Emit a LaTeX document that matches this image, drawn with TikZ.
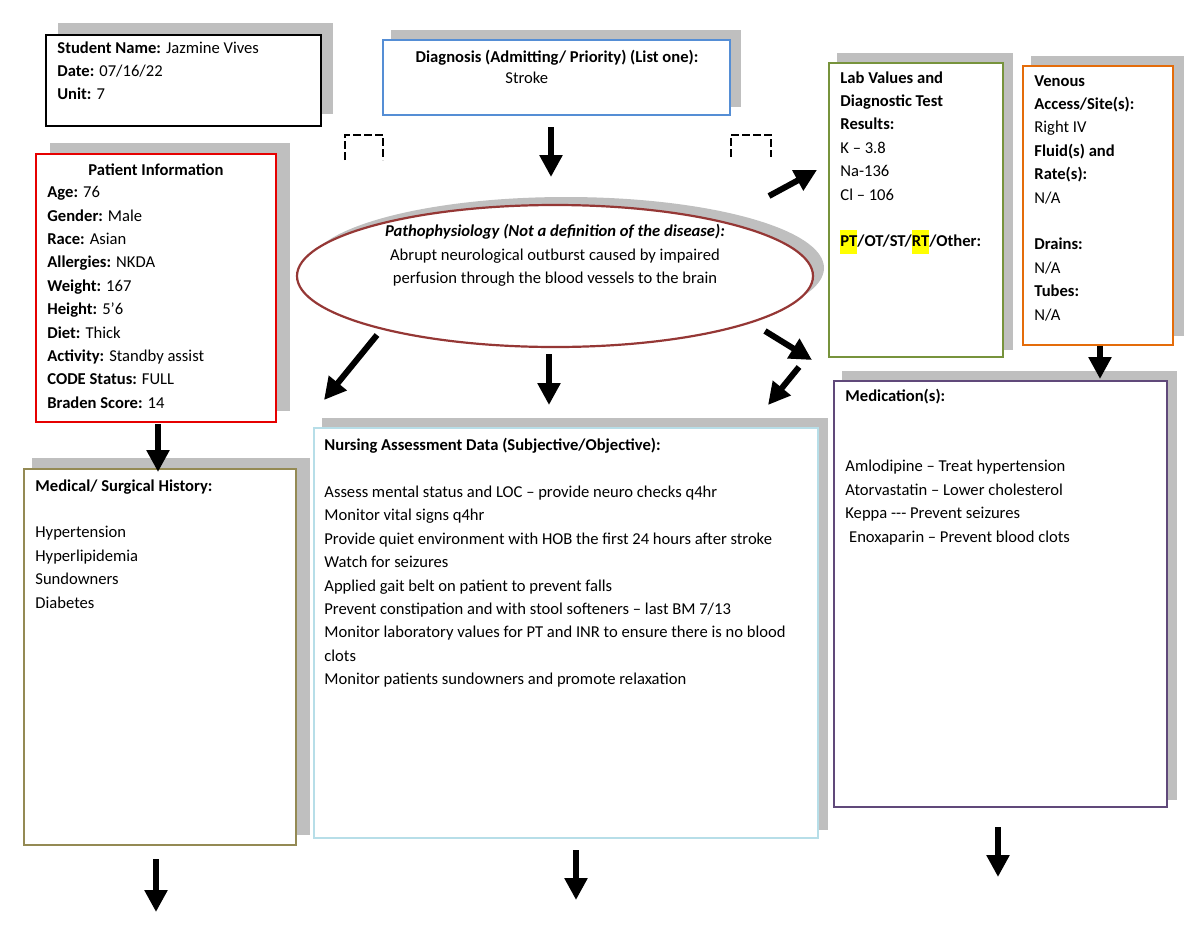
\documentclass[tikz,border=0pt]{standalone}
\usepackage{fontspec}
\setmainfont{Carlito}
\usetikzlibrary{arrows.meta,shapes.geometric}
\definecolor{shd}{RGB}{191,191,191}
\definecolor{dblue}{RGB}{85,142,213}
\definecolor{pred}{RGB}{230,0,0}
\definecolor{lgreen}{RGB}{119,147,60}
\definecolor{vorange}{RGB}{228,108,10}
\definecolor{mpurple}{RGB}{96,73,122}
\definecolor{molive}{RGB}{148,138,84}
\definecolor{nblue}{RGB}{183,222,232}
\definecolor{ered}{RGB}{149,55,53}
\definecolor{hl}{RGB}{255,255,0}
\newcommand{\hlt}[1]{\setlength{\fboxsep}{0pt}\colorbox{hl}{\strut #1}}
\begin{document}
\begin{tikzpicture}[x=0.5pt,y=-0.5pt,
  shadow/.style={fill=shd,draw=none},
  box/.style={fill=white,draw=#1,line width=1.3pt},
  txt/.style={anchor=north west,inner sep=0pt,align=left,font=\fontsize{8.3}{11.7}\selectfont},
  arr/.style={line width=3pt,-{Triangle[width=11pt,length=11pt]}}]
\useasboundingbox (0,0) rectangle (1200,927);
% shadows
\fill[shadow] (58,23) rectangle (333,114);
\fill[shadow] (391,30) rectangle (741,107);
\fill[shadow] (50,143) rectangle (290,411);
\fill[shadow] (837,53) rectangle (1013,350);
\fill[shadow] (1031,56) rectangle (1184,336);
\fill[shadow] (842,371) rectangle (1177,800);
\fill[shadow] (32,458) rectangle (310,835);
\fill[shadow] (322,418) rectangle (828,830);
\fill[shadow] (566,268) ellipse (258 and 71);
% boxes
\draw[box=black] (46,35) rectangle (321,126);
\draw[box=dblue] (383,40) rectangle (730,115);
\draw[box=pred] (36,154) rectangle (276,422);
\draw[box=lgreen] (829,63) rectangle (1003,357);
\draw[box=vorange] (1023,66) rectangle (1173,345);
\draw[box=mpurple] (834,381) rectangle (1167,807);
\draw[box=molive] (24,469) rectangle (296,845);
\draw[box=nblue] (314,428) rectangle (818,838);
\node[draw=ered,fill=white,line width=1.1pt,ellipse,minimum width=258pt,minimum height=71pt,inner sep=0] (patho) at (555,276) {};
% texts
\node[txt] (stud) at (57,41) {\textbf{Student Name:} Jazmine Vives\\\textbf{Date:} 07/16/22\\\textbf{Unit:} 7};
\node[txt,anchor=north] (diag) at (557,50) {\textbf{Diagnosis (Admitting/ Priority) (List one):}};
\node[txt] (stroke) at (505,72) {Stroke};
\node[txt,anchor=north,align=center] (pt) at (555,224) {\textbf{\textit{Pathophysiology (Not a definition of the disease):}}\\Abrupt neurological outburst caused by impaired\\perfusion through the blood vessels to the brain};
\node[txt,anchor=north] (pih) at (156,163) {\textbf{Patient Information}};
\node[txt] (pi) at (47,186) {\textbf{Age:} 76\\\textbf{Gender:} Male\\\textbf{Race:} Asian\\\textbf{Allergies:} NKDA\\\textbf{Weight:} 167\\\textbf{Height:} 5’6\\\textbf{Diet:} Thick\\\textbf{Activity:} Standby assist\\\textbf{CODE Status:} FULL\\\textbf{Braden Score:} 14};
\node[txt] (lab) at (840,71) {\textbf{Lab Values and}\\\textbf{Diagnostic Test}\\\textbf{Results:}\\K -- 3.8\\Na-136\\Cl -- 106\\[11.7pt]\textbf{\hlt{PT}/OT/ST/\hlt{RT}/Other:}};
\node[txt] (ven) at (1034,75) {\textbf{Venous}\\\textbf{Access/Site(s):}\\Right IV\\\textbf{Fluid(s) and}\\\textbf{Rate(s):}\\N/A\\[11.7pt]\textbf{Drains:}\\N/A\\\textbf{Tubes:}\\N/A};
\node[txt] (med) at (845,389) {\textbf{Medication(s):}\\[23.4pt]Amlodipine -- Treat hypertension\\Atorvastatin -- Lower cholesterol\\Keppa -{}-{}- Prevent seizures\\\ Enoxaparin -- Prevent blood clots};
\node[txt] (msh) at (35,479) {\textbf{Medical/ Surgical History:}\\[11.7pt]Hypertension\\Hyperlipidemia\\Sundowners\\Diabetes};
\node[txt] (nad) at (324,438) {\textbf{Nursing Assessment Data (Subjective/Objective):}\\[11.7pt]Assess mental status and LOC -- provide neuro checks q4hr\\Monitor vital signs q4hr\\Provide quiet environment with HOB the first 24 hours after stroke\\Watch for seizures\\Applied gait belt on patient to prevent falls\\Prevent constipation and with stool softeners -- last BM 7/13\\Monitor laboratory values for PT and INR to ensure there is no blood\\clots\\Monitor patients sundowners and promote relaxation};
% dashed brackets
\draw[line width=0.8pt,dash pattern=on 4pt off 1.5pt] (345,160) -- (345,135) -- (383,135) -- (383,160);
\draw[line width=0.8pt,dash pattern=on 4pt off 1.5pt] (731,157) -- (731,135) -- (771,135) -- (771,157);
% arrows
\coordinate (a1s) at (551,127); \coordinate (a1e) at (551,177);
\draw[arr] (a1s) -- (a1e);
\coordinate (a2s) at (769,196); \coordinate (a2e) at (817,170);
\draw[arr] (a2s) -- (a2e);
\coordinate (a3s) at (377,335); \coordinate (a3e) at (324,400);
\draw[arr] (a3s) -- (a3e);
\coordinate (a4s) at (549,354); \coordinate (a4e) at (549,405);
\draw[arr] (a4s) -- (a4e);
\coordinate (a5s) at (765,331); \coordinate (a5e) at (812,360);
\draw[arr] (a5s) -- (a5e);
\coordinate (a6s) at (799,367); \coordinate (a6e) at (768,405);
\draw[arr] (a6s) -- (a6e);
\coordinate (a7s) at (158,424); \coordinate (a7e) at (158,472);
\draw[arr] (a7s) -- (a7e);
\coordinate (a8s) at (1100,346); \coordinate (a8e) at (1100,379);
\draw[arr] (a8s) -- (a8e);
\coordinate (a9s) at (156,859); \coordinate (a9e) at (156,912);
\draw[arr] (a9s) -- (a9e);
\coordinate (a10s) at (576,850); \coordinate (a10e) at (576,900);
\draw[arr] (a10s) -- (a10e);
\coordinate (a11s) at (998,827); \coordinate (a11e) at (998,877);
\draw[arr] (a11s) -- (a11e);
\end{tikzpicture}
\end{document}
